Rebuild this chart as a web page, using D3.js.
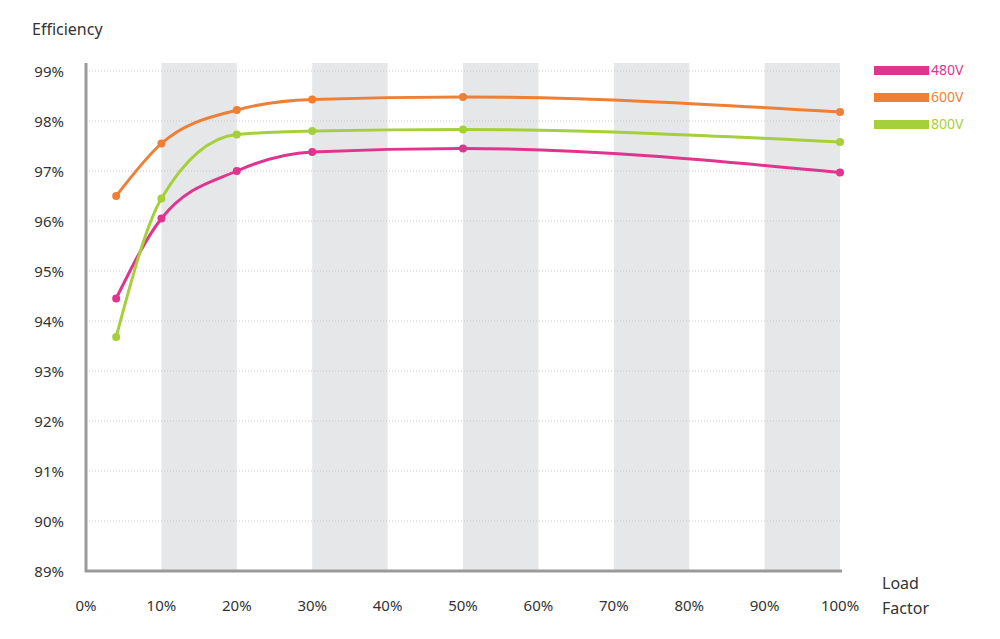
<!DOCTYPE html>
<html><head><meta charset="utf-8">
<script src="https://cdn.jsdelivr.net/npm/d3@7"></script>
<style>body{margin:0;background:#fff;font-family:"Noto Sans",sans-serif}</style>
</head><body>
<svg id="chart" width="1000" height="639"></svg>
<script>
var loads = [4, 10, 20, 30, 50, 100];
var v480 = [94.45, 96.05, 97.0, 97.38, 97.45, 96.97];
var v600 = [96.5, 97.55, 98.22, 98.43, 98.48, 98.18];
var v800 = [93.68, 96.45, 97.73, 97.8, 97.83, 97.58];
var seriesNames = ['480V', '600V', '800V'];
var seriesColors = ['#e0348f', '#ee7f35', '#a5cf3b'];
var xTicks = [0,10,20,30,40,50,60,70,80,90,100];
var yTicks = [89,90,91,92,93,94,95,96,97,98,99];
var bands = [[10,20],[30,40],[50,60],[70,80],[90,100]];

var svg = d3.select('#chart');
var x = d3.scaleLinear().domain([0, 100]).range([86, 840]);
var y = d3.scaleLinear().domain([89, 99]).range([571, 71]);

// grey bands
svg.selectAll('rect.band').data(bands).enter().append('rect')
    .attr('x', function(d){ return x(d[0]); }).attr('width', function(d){ return x(d[1]) - x(d[0]); })
    .attr('y', 63).attr('height', 571 - 63).attr('fill', '#e6e7e9');

// dotted grid
svg.selectAll('line.grid').data(yTicks.slice(1)).enter().append('line')
    .attr('x1', 86).attr('x2', 840).attr('y1', function(d){ return y(d); }).attr('y2', function(d){ return y(d); })
    .attr('stroke', '#c8c8c8').attr('stroke-dasharray', '1,2');

// axes
svg.append('line').attr('x1', 86).attr('x2', 86).attr('y1', 63).attr('y2', 572).attr('stroke', '#9a9a9a').attr('stroke-width', 3);
svg.append('line').attr('x1', 85).attr('x2', 842).attr('y1', 571).attr('y2', 571).attr('stroke', '#9a9a9a').attr('stroke-width', 3);

svg.selectAll('text.yt').data(yTicks).enter().append('text')
    .attr('x', 64).attr('y', function(d){ return y(d) + 6; }).attr('text-anchor', 'end')
    .attr('font-size', 15).attr('fill', '#333').text(function(d){ return d + '%'; });
svg.selectAll('text.xt').data(xTicks).enter().append('text')
    .attr('x', function(d){ return x(d); }).attr('y', 611).attr('text-anchor', 'middle')
    .attr('font-size', 15).attr('fill', '#333').text(function(d){ return d + '%'; });

svg.append('text').attr('x', 32).attr('y', 35).attr('font-size', 16).attr('fill', '#333').text('Efficiency');
svg.append('text').attr('x', 882).attr('y', 589).attr('font-size', 16).attr('fill', '#333').text('Load');
svg.append('text').attr('x', 882).attr('y', 614).attr('font-size', 16).attr('fill', '#333').text('Factor');

var line = d3.line().x(function(d){ return x(d[0]); }).y(function(d){ return y(d[1]); }).curve(d3.curveMonotoneX);
[v480, v600, v800].forEach(function(vals, i) {
    var pts = loads.map(function(l, j){ return [l, vals[j]]; });
    svg.append('path').attr('d', line(pts)).attr('fill', 'none')
        .attr('stroke', seriesColors[i]).attr('stroke-width', 3);
    svg.selectAll(null).data(pts).enter().append('circle')
        .attr('cx', function(d){ return x(d[0]); }).attr('cy', function(d){ return y(d[1]); })
        .attr('r', 4).attr('fill', seriesColors[i]);
});

// legend
seriesNames.forEach(function(n, i) {
    svg.append('rect').attr('x', 874).attr('y', 66 + i * 27).attr('width', 55).attr('height', 9).attr('fill', seriesColors[i]);
    svg.append('text').attr('x', 931).attr('y', 75 + i * 27).attr('font-size', 14).attr('fill', seriesColors[i]).text(n);
});
</script>
</body></html>
